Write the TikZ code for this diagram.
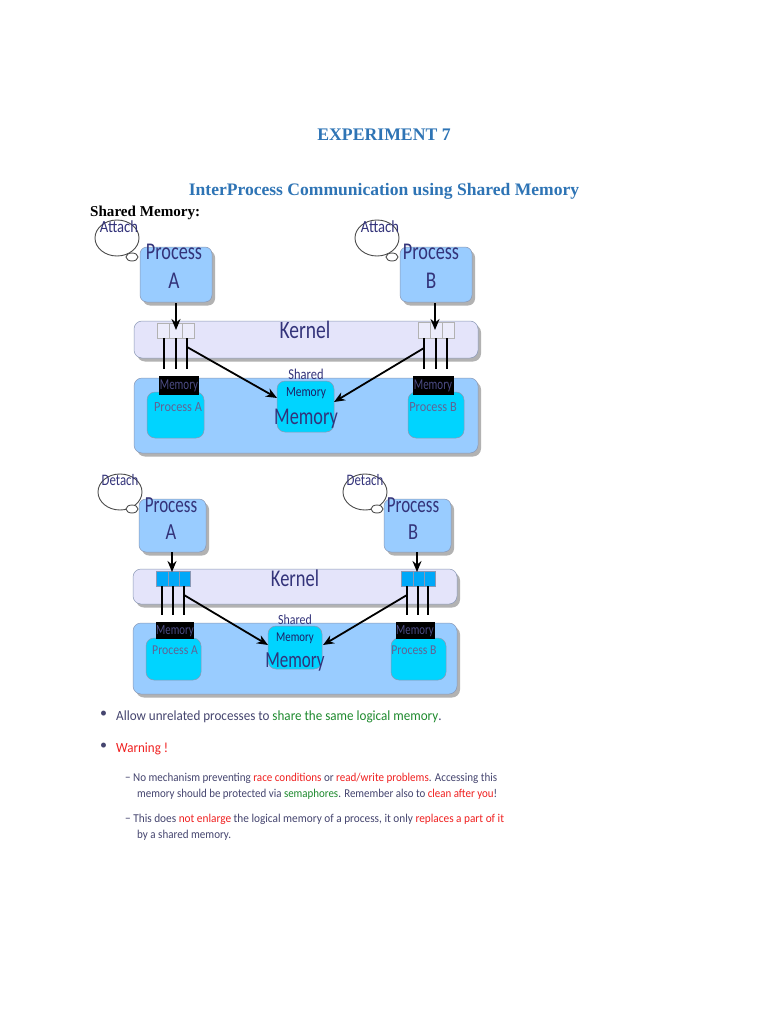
\documentclass[tikz,border=0pt]{standalone}
\usepackage{fontspec}
\usepackage{graphicx}
\setmainfont{Liberation Serif}
\newfontfamily\handf{Carlito}
\usetikzlibrary{shadows,arrows.meta,shapes.geometric}
\definecolor{ink}{HTML}{33337A}
\definecolor{navy}{HTML}{1F1F66}
\definecolor{procblue}{HTML}{99CCFF}
\definecolor{kern}{HTML}{E4E4FA}
\definecolor{cyanb}{HTML}{00D4FF}
\definecolor{slot}{HTML}{00A8F8}
\definecolor{edge}{HTML}{8A98B5}
\definecolor{title}{HTML}{2E74B5}
\definecolor{bodyt}{HTML}{45456F}
\definecolor{gr}{HTML}{1E8A2E}
\definecolor{rd}{HTML}{F02020}
\newcommand{\hs}[1]{\fontsize{#1}{#1}\selectfont}
\newcommand{\sx}[2]{\scalebox{#1}[1]{#2}}
\newcommand{\boxat}[6]{%
  \pgfmathsetmacro{\cxx}{(#3+#5)/2}\pgfmathsetmacro{\cyy}{(#4+#6)/2}%
  \pgfmathsetmacro{\wdd}{#5-#3}\pgfmathsetmacro{\htt}{#6-#4}%
  \node[#1,minimum width=\wdd pt,minimum height=\htt pt] (#2) at (\cxx,\cyy) {};}
\tikzset{
  x=1pt,y=-1pt,
  base/.style={draw=edge,line width=0.5pt,inner sep=0,outer sep=0},
  shad/.style={drop shadow={shadow xshift=3pt,shadow yshift=-3.5pt,fill=black!30,opacity=1}},
  proc/.style={base,shad,rounded corners=7pt,fill=procblue},
  kernel/.style={base,shad,rounded corners=8pt,fill=kern},
  mem/.style={base,shad,rounded corners=8pt,fill=procblue},
  inner/.style={base,rounded corners=8pt,fill=cyanb},
  slotE/.style={draw=black!30,line width=0.4pt,inner sep=0,outer sep=0,fill=kern!70!white},
  slotF/.style={draw=edge,line width=0.4pt,inner sep=0,outer sep=0,fill=slot},
  blk/.style={fill=black,inner sep=0,outer sep=0},
  lbl/.style={inner sep=0,text=ink,font=\handf},
  cloud/.style={draw=black!70,line width=0.9pt,fill=white,inner sep=0},
  link/.style={line width=1.5pt,black},
  arr/.style={line width=1.8pt,black,-{Stealth[length=11pt,width=9pt]}},
  body/.style={inner sep=0,anchor=west,font=\handf\hs{12},text=bodyt},
}
\begin{document}
\begin{tikzpicture}
\useasboundingbox (0,0) rectangle (768,1024);
\fill[white] (0,0) rectangle (768,1024);

\node[inner sep=0,text=title,font=\bfseries\hs{17.7}] (t1) at (384,135) {EXPERIMENT 7};
\node[inner sep=0,text=title,font=\bfseries\hs{17.55}] (t2) at (384,191) {InterProcess Communication using Shared Memory};
\node[inner sep=0,anchor=west,font=\bfseries\hs{15.1}] (t3) at (90,213) {Shared Memory:};

% ---------- Attach diagram ----------
\boxat{kernel}{ka}{134}{321}{478}{358}
\boxat{mem}{ma}{134}{378}{478}{453}
\boxat{inner}{ipa}{147}{392}{204}{438}
\boxat{inner}{ipb}{408}{392}{464}{438}
\boxat{inner}{isa}{277}{381}{334}{432}
\boxat{blk}{bka}{159}{376}{199}{395}
\boxat{blk}{bkb}{413}{376}{454}{395}
\boxat{proc}{pa}{140}{247}{212}{302}
\boxat{proc}{pb}{400}{247}{472}{302}
\node[cloud,ellipse,minimum width=44pt,minimum height=36pt] (ca) at (117,238) {};
\node[cloud,ellipse,minimum width=12pt,minimum height=8pt] (cas) at (132,257) {};
\node[cloud,ellipse,minimum width=44pt,minimum height=36pt] (cb) at (377,238) {};
\node[cloud,ellipse,minimum width=12pt,minimum height=8pt] (cbs) at (392,257) {};
\boxat{slotE}{sa1}{157}{323}{169}{338}
\boxat{slotE}{sa2}{169}{323}{182}{338}
\boxat{slotE}{sa3}{182}{323}{194}{338}
\boxat{slotE}{sb1}{418}{322}{430}{338}
\boxat{slotE}{sb2}{430}{322}{442}{338}
\boxat{slotE}{sb3}{442}{322}{454}{338}
\coordinate (ea1) at (164,369); \coordinate (ea2) at (176,369); \coordinate (ea3) at (187,369);
\coordinate (eb1) at (424,369); \coordinate (eb2) at (436,369); \coordinate (eb3) at (447,369);
\coordinate (aa) at (176,303); \coordinate (ab) at (176,330);
\coordinate (ba) at (435,303); \coordinate (bb) at (435,330);
\coordinate (da) at (187,347); \coordinate (dt) at (277,398);
\coordinate (db) at (424,348); \coordinate (du) at (334,402);
\draw[link] (sa1.south -| ea1) -- (ea1);
\draw[link] (sa2.south -| ea2) -- (ea2);
\draw[link] (sa3.south -| ea3) -- (ea3);
\draw[link] (sb1.south -| eb1) -- (eb1);
\draw[link] (sb2.south -| eb2) -- (eb2);
\draw[link] (sb3.south -| eb3) -- (eb3);
\draw[arr] (aa) -- (ab);
\draw[arr] (ba) -- (bb);
\draw[arr] (da) -- (dt);
\draw[arr] (db) -- (du);

\node[lbl,font=\handf\hs{17}] (la1) at (119,227) {\sx{.86}{Attach}};
\node[lbl,font=\handf\hs{17}] (la2) at (380,227) {\sx{.86}{Attach}};
\node[lbl,font=\handf\hs{24}] (la3) at (174,252) {\sx{.76}{Process}};
\node[lbl,font=\handf\hs{24}] (la4) at (174,281) {\sx{.8}{A}};
\node[lbl,font=\handf\hs{24}] (la5) at (431,252) {\sx{.76}{Process}};
\node[lbl,font=\handf\hs{24}] (la6) at (431,281) {\sx{.8}{B}};
\node[lbl,font=\handf\hs{25}] (la7) at (305,330) {\sx{.78}{Kernel}};
\node[lbl,font=\handf\hs{15}] (la8) at (306,374) {\sx{.83}{Shared}};
\node[lbl,font=\handf\hs{14},text=navy] (la9) at (306,393) {\sx{.82}{Memory}};
\node[lbl,font=\handf\hs{24}] (la10) at (306,419) {\sx{.76}{Memory}};
\node[lbl,font=\handf\hs{14},text=navy!70!white] (la11) at (178,407) {\sx{.88}{Process A}};
\node[lbl,font=\handf\hs{14},text=navy!70!white] (la12) at (433,407) {\sx{.88}{Process B}};
\node[lbl,font=\handf\hs{15},text=navy!80!white] (la13) at (179,386) {\sx{.73}{Memory}};
\node[lbl,font=\handf\hs{15},text=navy!80!white] (la14) at (433,386) {\sx{.73}{Memory}};

% ---------- Detach diagram ----------
\boxat{kernel}{kb}{133}{569}{457}{604}
\boxat{mem}{mb}{133}{623}{457}{694}
\boxat{inner}{jpa}{146}{638}{201}{680}
\boxat{inner}{jpb}{391}{638}{446}{680}
\boxat{inner}{jsa}{268}{626}{322}{669}
\boxat{blk}{cka}{156}{622}{194}{639}
\boxat{blk}{ckb}{396}{622}{435}{639}
\boxat{proc}{qa}{139}{499}{206}{552}
\boxat{proc}{qb}{384}{499}{451}{552}
\node[cloud,ellipse,minimum width=44pt,minimum height=36pt] (da0) at (120,492) {};
\node[cloud,ellipse,minimum width=12pt,minimum height=8pt] (das) at (132,509) {};
\node[cloud,ellipse,minimum width=44pt,minimum height=36pt] (db0) at (365,492) {};
\node[cloud,ellipse,minimum width=12pt,minimum height=8pt] (dbs) at (377,509) {};
\boxat{slotF}{ta1}{156}{571}{168}{586}
\boxat{slotF}{ta2}{168}{571}{179}{586}
\boxat{slotF}{ta3}{179}{571}{190}{586}
\boxat{slotF}{tb1}{401}{571}{413}{586}
\boxat{slotF}{tb2}{413}{571}{424}{586}
\boxat{slotF}{tb3}{424}{571}{435}{586}
\coordinate (fa1) at (162,615); \coordinate (fa2) at (173,615); \coordinate (fa3) at (184,615);
\coordinate (fb1) at (407,615); \coordinate (fb2) at (418,615); \coordinate (fb3) at (428,615);
\coordinate (ga) at (172,552); \coordinate (gb) at (172,572);
\coordinate (ha) at (417,552); \coordinate (hb) at (417,572);
\coordinate (ia) at (184,595); \coordinate (it) at (268,645);
\coordinate (ib) at (407,595); \coordinate (iu) at (323,645);
\draw[link] (ta1.south -| fa1) -- (fa1);
\draw[link] (ta2.south -| fa2) -- (fa2);
\draw[link] (ta3.south -| fa3) -- (fa3);
\draw[link] (tb1.south -| fb1) -- (fb1);
\draw[link] (tb2.south -| fb2) -- (fb2);
\draw[link] (tb3.south -| fb3) -- (fb3);
\draw[arr] (ga) -- (gb);
\draw[arr] (ha) -- (hb);
\draw[arr] (ia) -- (it);
\draw[arr] (ib) -- (iu);

\node[lbl,font=\handf\hs{16}] (lb1) at (120,480) {\sx{.8}{Detach}};
\node[lbl,font=\handf\hs{16}] (lb2) at (365,480) {\sx{.8}{Detach}};
\node[lbl,font=\handf\hs{23}] (lb3) at (171,505) {\sx{.74}{Process}};
\node[lbl,font=\handf\hs{23}] (lb4) at (171,532) {\sx{.8}{A}};
\node[lbl,font=\handf\hs{23}] (lb5) at (413,505) {\sx{.74}{Process}};
\node[lbl,font=\handf\hs{23}] (lb6) at (413,532) {\sx{.8}{B}};
\node[lbl,font=\handf\hs{24}] (lb7) at (295,578) {\sx{.77}{Kernel}};
\node[lbl,font=\handf\hs{14}] (lb8) at (295,620) {\sx{.85}{Shared}};
\node[lbl,font=\handf\hs{13.5},text=navy] (lb9) at (295,638) {\sx{.8}{Memory}};
\node[lbl,font=\handf\hs{23}] (lb10) at (295,662) {\sx{.74}{Memory}};
\node[lbl,font=\handf\hs{13.5},text=navy!70!white] (lb11) at (175,650) {\sx{.87}{Process A}};
\node[lbl,font=\handf\hs{13.5},text=navy!70!white] (lb12) at (414,650) {\sx{.87}{Process B}};
\node[lbl,font=\handf\hs{14},text=navy!80!white] (lb13) at (175,631) {\sx{.77}{Memory}};
\node[lbl,font=\handf\hs{14},text=navy!80!white] (lb14) at (415,631) {\sx{.77}{Memory}};

% ---------- Notes ----------
\node[body,font=\handf\hs{14}] (n0) at (100,714) {•};
\node[body,font=\handf\hs{14}] (n1) at (116,716.5) {\sx{.935}{Allow unrelated processes to \textcolor{gr}{share the same logical memory}.}};
\node[body,font=\handf\hs{14}] (n2) at (100,746) {•};
\node[body,font=\handf\hs{14},text=rd] (n3) at (116,748.5) {\sx{.93}{Warning !}};
\node[body] (n4) at (125,778.5) {\sx{.92}{\textminus\ No mechanism preventing \textcolor{rd}{race conditions} or \textcolor{rd}{read/write problems}. Accessing this}};
\node[body] (n5) at (137,794.5) {\sx{.91}{memory should be protected via \textcolor{gr}{semaphores}. Remember also to \textcolor{rd}{clean after you}!}};
\node[body] (n6) at (125,819.5) {\sx{.94}{\textminus\ This does \textcolor{rd}{not enlarge} the logical memory of a process, it only \textcolor{rd}{replaces a part of it}}};
\node[body] (n7) at (137,835.5) {\sx{.92}{by a shared memory.}};
\end{tikzpicture}
\end{document}
